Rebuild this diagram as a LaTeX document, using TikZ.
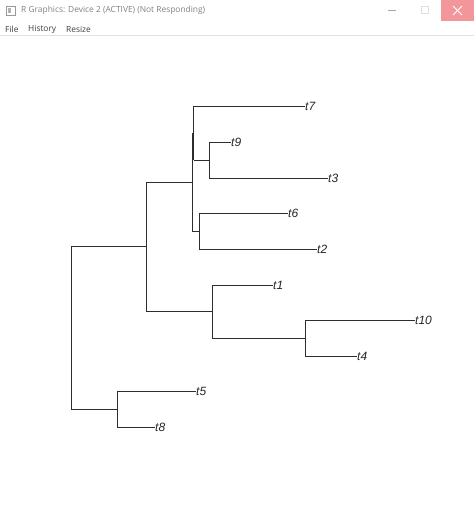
\documentclass[tikz,border=0pt]{standalone}
\usepackage{fontspec}
\setmainfont{Liberation Sans}
\newfontfamily\uifont{Open Sans}
\definecolor{closepink}{RGB}{242,150,156}
\definecolor{titlegray}{RGB}{130,130,130}
\definecolor{sepgray}{RGB}{225,225,225}
\definecolor{branch}{RGB}{45,45,45}
\tikzset{
  br/.style={draw=branch, line width=0.8pt},
  tip/.style={anchor=west, inner sep=0pt, font=\fontsize{12}{12}\selectfont\itshape, text=black!85},
  ui/.style={anchor=west, inner sep=0pt, font=\uifont\fontsize{8.4}{8.4}\selectfont},
}
\begin{document}
\begin{tikzpicture}[x=1pt,y=-1pt]
\useasboundingbox (0,0) rectangle (474,508);
\fill[white] (0,0) rectangle (474,508);
% window chrome
\fill[closepink] (441,0) rectangle (474,21);
\draw[white, line width=0.8pt] (453,6) -- (462,15) (453,15) -- (462,6);
\draw[gray!70, line width=0.6pt] (388,10.5) -- (396,10.5);
\draw[gray!25, line width=0.6pt] (421,6.5) rectangle (428,13.5);
\draw[gray!80, line width=0.6pt] (6,6) rectangle (15,15);
\fill[gray!60] (8,8) rectangle (11,13);
\node[ui, text=titlegray] (title) at (21,10.5) {R Graphics: Device 2 (ACTIVE) (Not Responding)};
\node[ui, text=black!75] (mfile) at (5,29) {File};
\node[ui, text=black!75] (mhist) at (28,29) {History};
\node[ui, text=black!75] (mres) at (66,29) {Resize};
\draw[sepgray, line width=0.8pt] (0,35.5) -- (474,35.5);
% tips
\coordinate (t7) at (305,106);
\coordinate (t9) at (231,142);
\coordinate (t3) at (328,178);
\coordinate (t6) at (288,213);
\coordinate (t2) at (317,249);
\coordinate (t1) at (273,285);
\coordinate (t10) at (415,320);
\coordinate (t4) at (357,356);
\coordinate (t5) at (196,391);
\coordinate (t8) at (155,427);
% internal nodes
\coordinate (D) at (209,160);
\coordinate (C1) at (193.5,133);
\coordinate (E) at (199,231);
\coordinate (C) at (192,182);
\coordinate (G) at (305,338);
\coordinate (F) at (212,311.5);
\coordinate (B) at (146,246.5);
\coordinate (A) at (117,409);
\coordinate (R) at (71,327.7);
% edges
\draw[br] (D|-t9) -- (t9) (D|-t3) -- (t3) (D|-t9) -- (D|-t3);
\draw[br] (C1|-t7) -- (t7) (C1|-D) -- (D) (C1|-t7) -- (C1|-D);
\draw[br] (E|-t6) -- (t6) (E|-t2) -- (t2) (E|-t6) -- (E|-t2);
\draw[br] (C|-C1) -- (C1) (C|-E) -- (E) (C|-C1) -- (C|-E);
\draw[br] (G|-t10) -- (t10) (G|-t4) -- (t4) (G|-t10) -- (G|-t4);
\draw[br] (F|-t1) -- (t1) (F|-G) -- (G) (F|-t1) -- (F|-G);
\draw[br] (B|-C) -- (C) (B|-F) -- (F) (B|-C) -- (B|-F);
\draw[br] (A|-t5) -- (t5) (A|-t8) -- (t8) (A|-t5) -- (A|-t8);
\draw[br] (R|-B) -- (B) (R|-A) -- (A) (R|-B) -- (R|-A);
% labels
\node[tip] (l7) at (t7) {t7};
\node[tip] (l9) at (t9) {t9};
\node[tip] (l3) at (t3) {t3};
\node[tip] (l6) at (t6) {t6};
\node[tip] (l2) at (t2) {t2};
\node[tip] (l1) at (t1) {t1};
\node[tip] (l10) at (t10) {t10};
\node[tip] (l4) at (t4) {t4};
\node[tip] (l5) at (t5) {t5};
\node[tip] (l8) at (t8) {t8};
\end{tikzpicture}
\end{document}
